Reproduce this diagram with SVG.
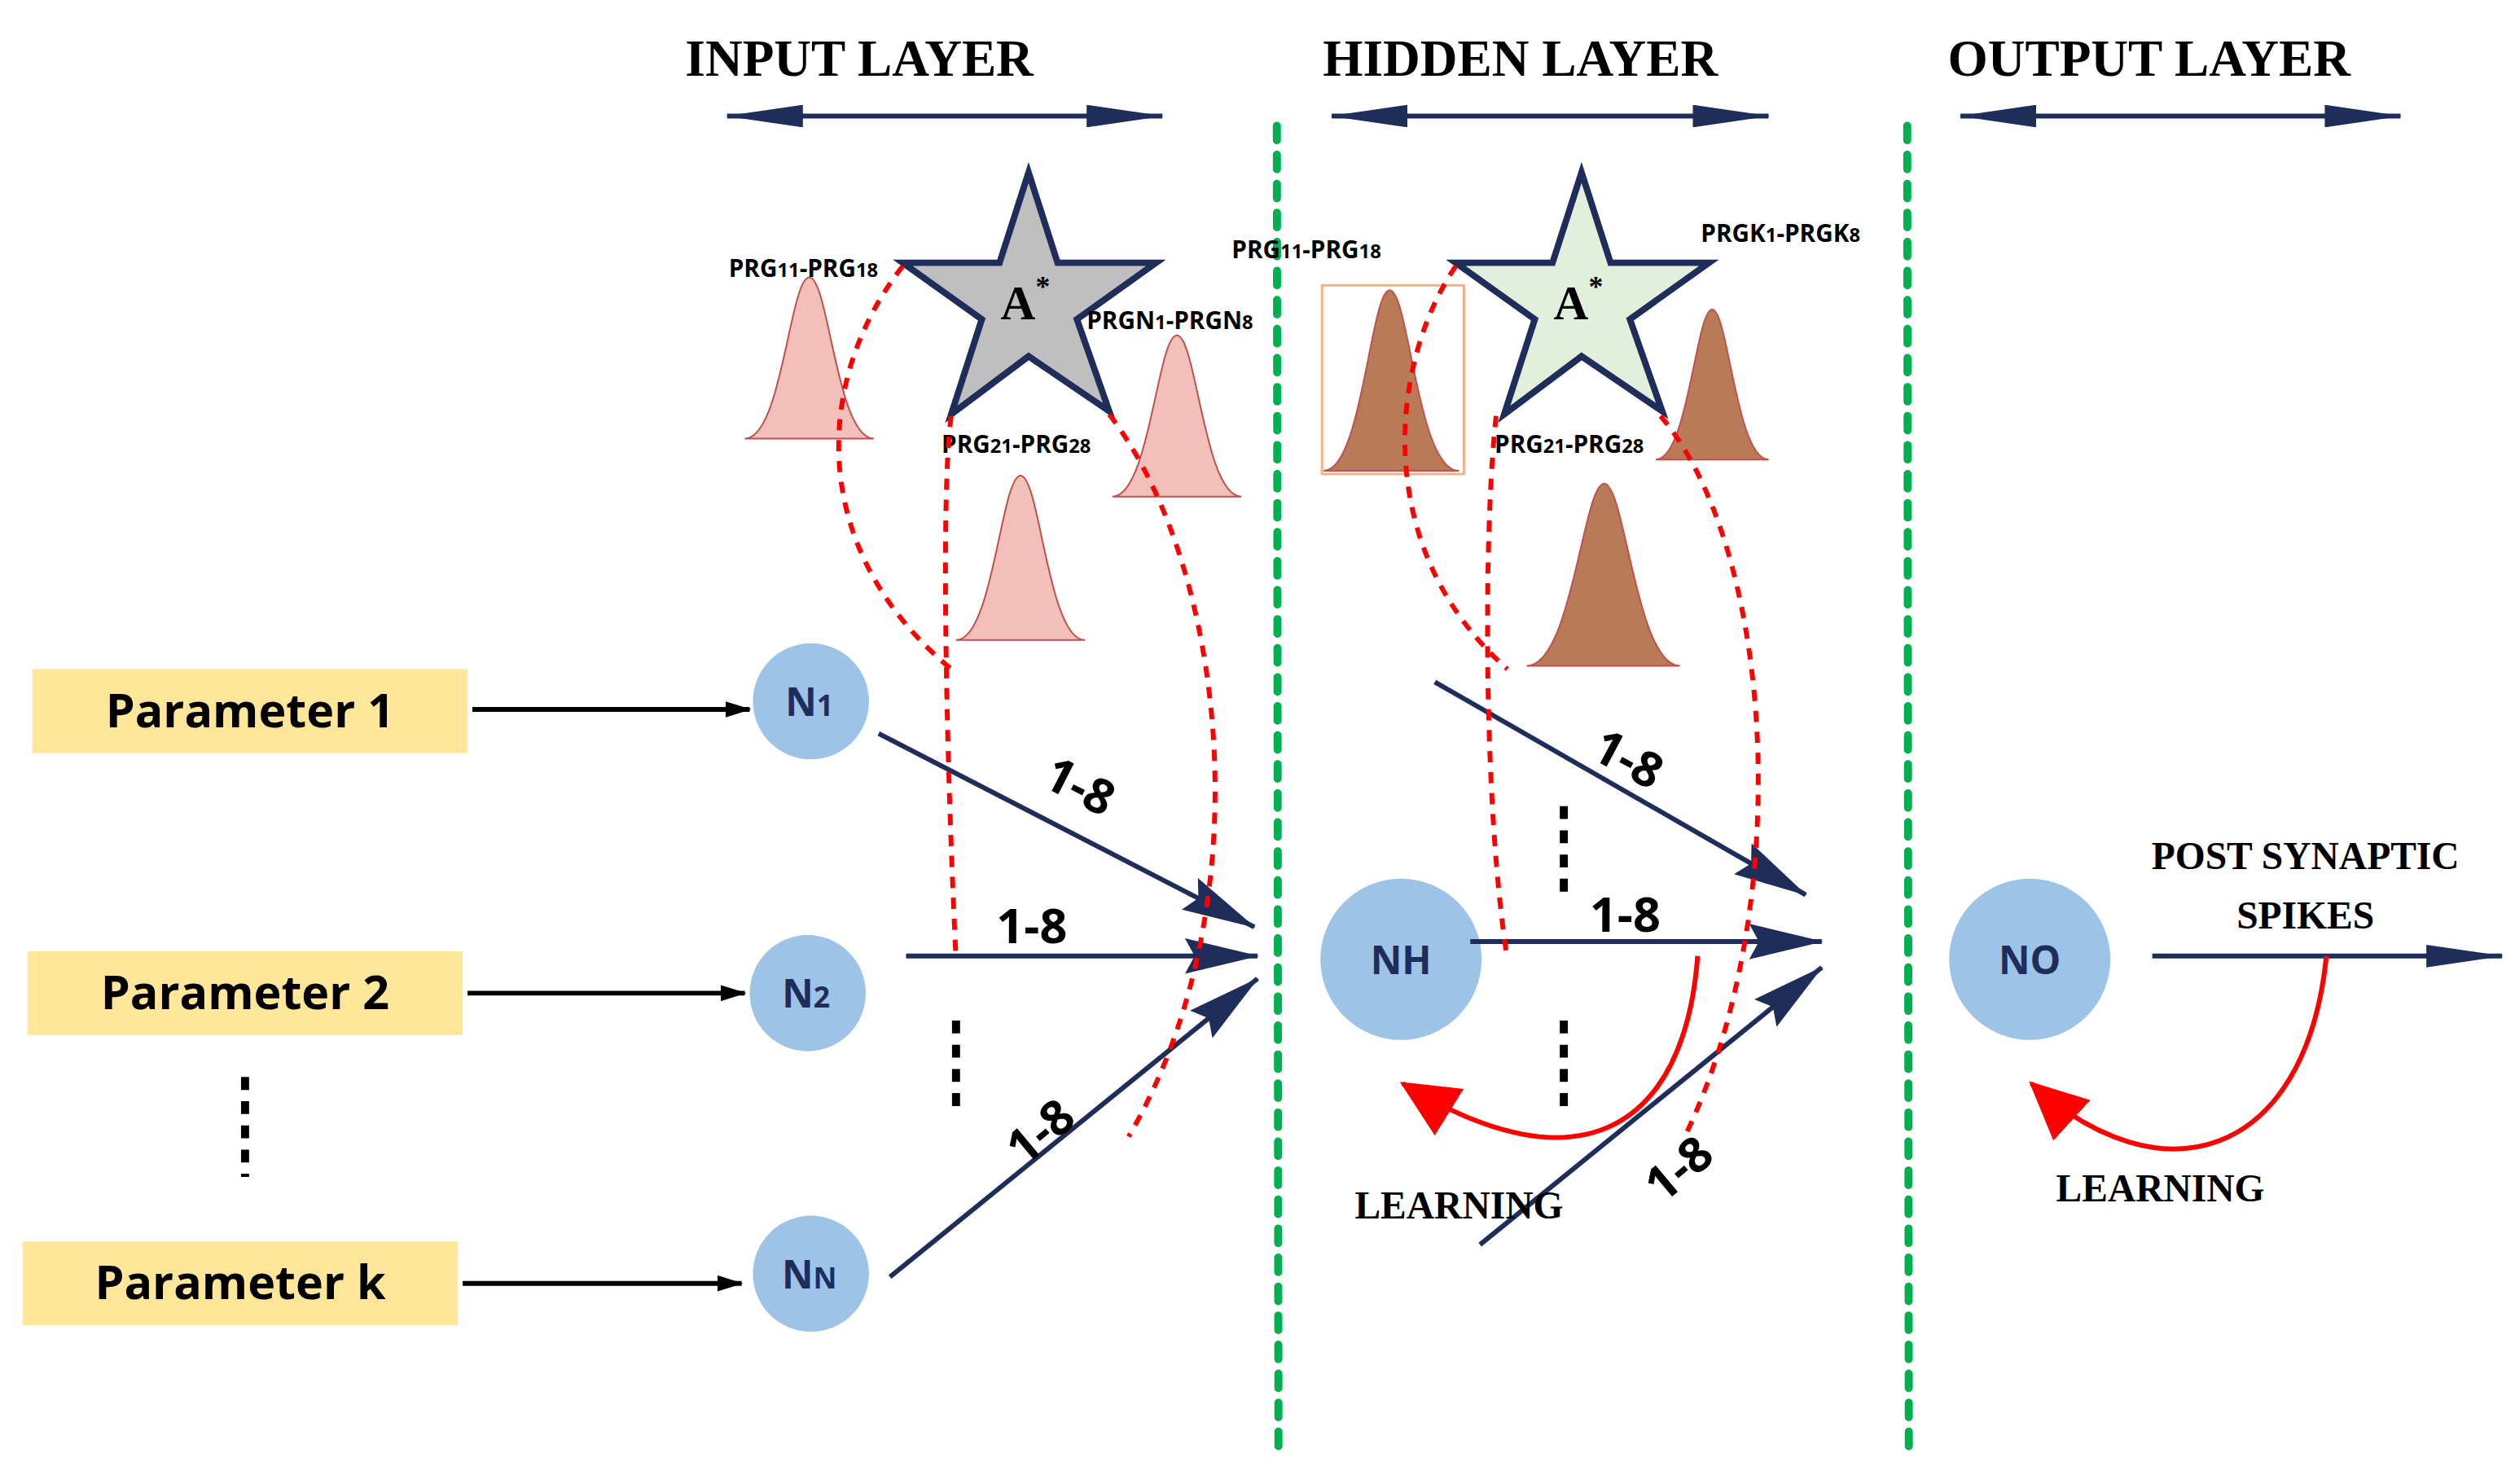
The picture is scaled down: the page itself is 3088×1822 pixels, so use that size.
<svg xmlns="http://www.w3.org/2000/svg" width="3088" height="1822" viewBox="0 0 3088 1822">
<defs>
<style>
.title{font-family:"Liberation Serif",serif;font-weight:bold;font-size:32px;fill:#000;text-anchor:middle}
.sub{font-family:"Liberation Serif",serif;font-weight:bold;font-size:24px;fill:#000;text-anchor:middle}
.param{font-family:"Open Sans","Liberation Sans",sans-serif;font-weight:bold;font-size:29px;fill:#000;text-anchor:middle}
.box{fill:#ffe699}
.node{fill:#9dc3e6}
.ntext{font-family:"Open Sans","Liberation Sans",sans-serif;font-weight:bold;font-size:24px;fill:#1f2d5a;text-anchor:middle}
.lbl{font-family:"Open Sans","Liberation Sans",sans-serif;font-weight:bold;font-size:30px;fill:#000;text-anchor:middle}
.small{font-family:"Open Sans","Liberation Sans",sans-serif;font-weight:bold;font-size:15px;fill:#000}
.param{}
.navy{stroke:#1f2d5a;stroke-width:3;fill:none}
.blk{stroke:#000;stroke-width:3;fill:none}
.green{stroke:#00b050;stroke-width:5;stroke-dasharray:9 9;stroke-linecap:round;fill:none}
.red{stroke:#ff0000;stroke-width:3;stroke-dasharray:7 6;fill:none}
.learn{stroke:#ff0000;stroke-width:3;fill:none}
.dots{stroke:#000;stroke-width:5;stroke-dasharray:8 7;fill:none}
.pink{fill:#f2c0b8;stroke:#c0504d;stroke-width:1}
.brown{fill:#b87a57;stroke:#c0504d;stroke-width:1}
.star{stroke:#1f2d5a;stroke-width:4;stroke-linejoin:miter}
</style>
<marker id="ah" markerWidth="16" markerHeight="10" refX="15" refY="5" orient="auto" markerUnits="userSpaceOnUse"><path d="M0,0 L16,5 L0,10 Z" fill="#000"/></marker>
<marker id="big" markerWidth="46" markerHeight="22" refX="45" refY="11" orient="auto" markerUnits="userSpaceOnUse"><path d="M0,0 L46,11 L0,22 L6,11 Z" fill="#1f2d5a"/></marker>
<marker id="thin" markerWidth="48" markerHeight="14" refX="47" refY="7" orient="auto" markerUnits="userSpaceOnUse"><path d="M0,0 L48,7 L0,14 Z" fill="#1f2d5a"/></marker>
<marker id="thinS" markerWidth="48" markerHeight="14" refX="1" refY="7" orient="auto" markerUnits="userSpaceOnUse"><path d="M48,0 L0,7 L48,14 Z" fill="#1f2d5a"/></marker>
<marker id="redh" markerWidth="36" markerHeight="34" refX="34" refY="17" orient="auto" markerUnits="userSpaceOnUse"><path d="M0,0 L36,17 L0,34 Z" fill="#ff0000"/></marker>
</defs>
<rect width="3088" height="1822" fill="#fff"/>
<g transform="scale(1.9795)">
<g id="titles">
<text class="title" x="533" y="47">INPUT LAYER</text>
<text class="title" x="943" y="47">HIDDEN LAYER</text>
<text class="title" x="1333" y="47">OUTPUT LAYER</text>
</g>
<g id="dividers">
<line class="green" x1="792" y1="78" x2="793" y2="905"/>
<line class="green" x1="1183" y1="78" x2="1184" y2="905"/>
</g>
<g id="gaussians">
<path class="pink" d="M462,272 C485,272 490,172 502,172 C514,172 519,272 542,272 Z"/>
<path class="pink" d="M690,308 C713,308 718,208 730,208 C742,208 747,308 770,308 Z"/>
<path class="pink" d="M593,397 C616,397 621,295 633,295 C645,295 650,397 673,397 Z"/>
<rect x="820" y="177" width="88" height="117" fill="none" stroke="#f4b183" stroke-width="1.5"/>
<path class="brown" d="M821,292 C845,292 850,180 862,180 C874,180 879,292 905,292 Z"/>
<path class="brown" d="M1027,285 C1047,285 1052,192 1062,192 C1072,192 1077,285 1097,285 Z"/>
<path class="brown" d="M947,413 C975,413 982,300 995,300 C1008,300 1015,413 1042,413 Z"/>
</g>
<g id="star-input">
<polygon class="star" fill="#bfbfbf" points="638,107 656,163 717,163 668,198 688,255 638,221 590,257 609,198 560,163 620,163"/>
<text x="636" y="198" font-family="Liberation Serif,serif" font-weight="bold" font-size="30" text-anchor="middle">A<tspan font-size="18" dy="-14">*</tspan></text>
</g>
<g id="star-hidden">
<polygon class="star" fill="#e2efda" points="981,107 999,163 1060,163 1011,198 1031,255 981,221 933,257 952,198 903,163 963,163"/>
<text x="979" y="198" font-family="Liberation Serif,serif" font-weight="bold" font-size="30" text-anchor="middle">A<tspan font-size="18" dy="-14">*</tspan></text>
</g>
<g id="prg-labels">
<text class="small" x="452" y="172">PRG<tspan font-size="12">11</tspan>-PRG<tspan font-size="12">18</tspan></text>
<text class="small" x="674" y="204">PRGN<tspan font-size="12">1</tspan>-PRGN<tspan font-size="12">8</tspan></text>
<text class="small" x="584" y="281">PRG<tspan font-size="12">21</tspan>-PRG<tspan font-size="12">28</tspan></text>
<text class="small" x="764" y="160">PRG<tspan font-size="12">11</tspan>-PRG<tspan font-size="12">18</tspan></text>
<text class="small" x="1055" y="150">PRGK<tspan font-size="12">1</tspan>-PRGK<tspan font-size="12">8</tspan></text>
<text class="small" x="927" y="281">PRG<tspan font-size="12">21</tspan>-PRG<tspan font-size="12">28</tspan></text>
</g>
<g id="params">
<g id="param1"><rect class="box" x="20" y="415" width="270" height="52"/><text class="param" x="155" y="451">Parameter 1</text></g>
<g id="param2"><rect class="box" x="17" y="590" width="270" height="52"/><text class="param" x="152" y="626">Parameter 2</text></g>
<g id="paramk"><rect class="box" x="14" y="770" width="270" height="52"/><text class="param" x="149" y="806">Parameter k</text></g>
</g>
<g id="nodes">
<g id="N1"><circle class="node" cx="503" cy="435" r="36"/><text class="ntext" x="502" y="444">N<tspan font-size="18">1</tspan></text></g>
<g id="N2"><circle class="node" cx="501" cy="616" r="36"/><text class="ntext" x="500" y="625">N<tspan font-size="18">2</tspan></text></g>
<g id="NN"><circle class="node" cx="503" cy="790" r="36"/><text class="ntext" x="502" y="799">N<tspan font-size="18">N</tspan></text></g>
<g id="NH"><circle class="node" cx="869" cy="595" r="50"/><text class="ntext" x="869" y="604">NH</text></g>
<g id="NO"><circle class="node" cx="1259" cy="595" r="50"/><text class="ntext" x="1259" y="604">NO</text></g>
</g>
<g id="connectors">
<line class="navy" x1="451" y1="72" x2="721" y2="72" marker-start="url(#thinS)" marker-end="url(#thin)"/>
<line class="navy" x1="826" y1="72" x2="1097" y2="72" marker-start="url(#thinS)" marker-end="url(#thin)"/>
<line class="navy" x1="1216" y1="72" x2="1489" y2="72" marker-start="url(#thinS)" marker-end="url(#thin)"/>
<line class="blk" x1="293" y1="440" x2="465" y2="440" marker-end="url(#ah)"/>
<line class="blk" x1="290" y1="616" x2="462" y2="616" marker-end="url(#ah)"/>
<line class="blk" x1="287" y1="796" x2="460" y2="796" marker-end="url(#ah)"/>
<line class="dots" x1="152" y1="668" x2="152" y2="730"/>
<line class="dots" x1="593" y1="633" x2="593" y2="693"/>
<line class="dots" x1="970" y1="500" x2="970" y2="560"/>
<line class="dots" x1="970" y1="633" x2="970" y2="693"/>
<line class="navy" x1="545" y1="455" x2="778" y2="575" marker-end="url(#big)"/>
<line class="navy" x1="562" y1="593" x2="780" y2="593" marker-end="url(#big)"/>
<line class="navy" x1="552" y1="792" x2="780" y2="607" marker-end="url(#big)"/>
<line class="navy" x1="890" y1="423" x2="1120" y2="555" marker-end="url(#big)"/>
<line class="navy" x1="912" y1="584" x2="1130" y2="584" marker-end="url(#big)"/>
<line class="navy" x1="918" y1="772" x2="1130" y2="600" marker-end="url(#big)"/>
<line class="navy" x1="1335" y1="593" x2="1552" y2="593" marker-end="url(#thin)"/>
<path class="red" d="M560,165 C505,235 500,340 590,415"/>
<path class="red" d="M590,258 C584,300 586,450 593,595"/>
<path class="red" d="M688,257 C760,350 785,560 700,705"/>
<path class="red" d="M903,165 C862,225 850,340 935,415"/>
<path class="red" d="M928,258 C920,330 920,500 935,595"/>
<path class="red" d="M1030,258 C1100,340 1115,560 1045,705"/>
<path class="learn" d="M1053,593 C1045,700 980,740 870,672" marker-end="url(#redh)"/>
<path class="learn" d="M1443,593 C1430,720 1340,745 1260,672" marker-end="url(#redh)"/>
</g>
<g id="labels">
<text class="lbl" transform="translate(665,497) rotate(27)">1-8</text>
<text class="lbl" x="640" y="585">1-8</text>
<text class="lbl" transform="translate(652,710) rotate(-40)">1-8</text>
<text class="lbl" transform="translate(1005,480) rotate(28)">1-8</text>
<text class="lbl" x="1008" y="578">1-8</text>
<text class="lbl" transform="translate(1048,733) rotate(-40)">1-8</text>
<text class="sub" x="905" y="756">LEARNING</text>
<text class="sub" x="1340" y="745">LEARNING</text>
<text class="sub" x="1430" y="539">POST SYNAPTIC</text>
<text class="sub" x="1430" y="576">SPIKES</text>
</g>
</g>
</svg>
